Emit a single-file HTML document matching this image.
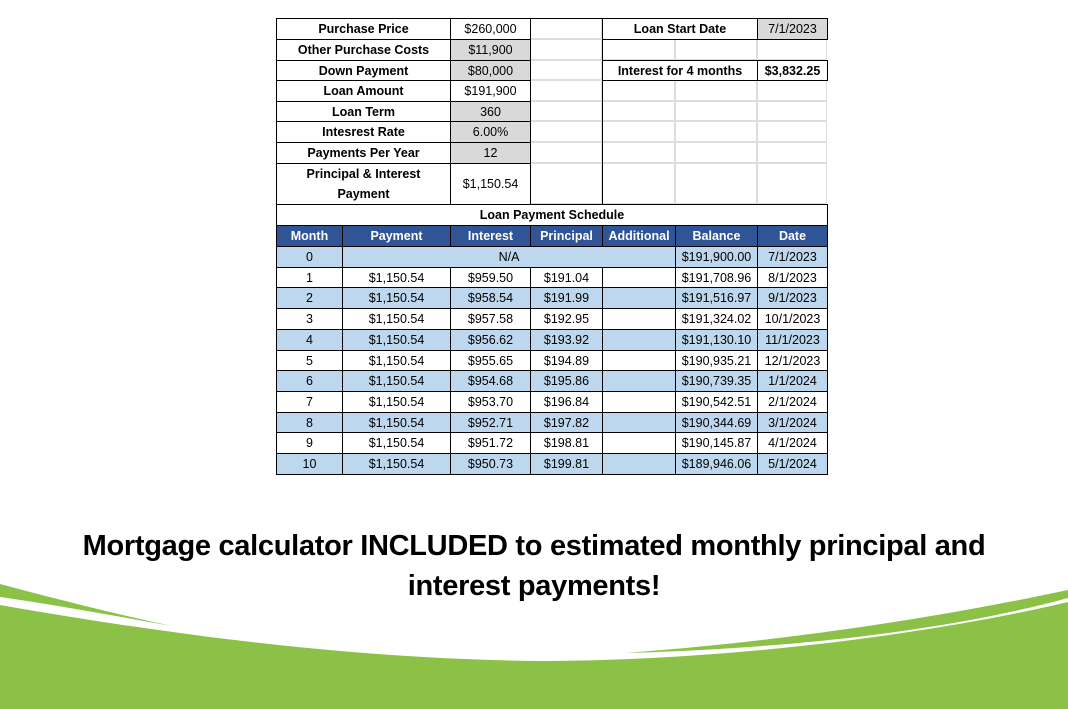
<!DOCTYPE html>
<html><head><style>
body{margin:0;width:1068px;height:709px;background:#fff;position:relative;overflow:hidden;font-family:"Liberation Sans",sans-serif}
.c{position:absolute;box-sizing:border-box;font-size:12.5px;display:flex;align-items:center;justify-content:center;white-space:nowrap;color:#000}
.b{font-weight:bold}
#cap{position:absolute;left:0;width:1068px;top:526px;text-align:center;font-weight:bold;font-size:29px;line-height:40px;letter-spacing:-0.3px}
</style></head><body>
<svg width="1068" height="709" style="position:absolute;left:0;top:0">
<path d="M0,605 C200,640 380,660 545,661 C750,660 950,630 1068,602 L1068,709 L0,709 Z" fill="#8bc146"/>
<path d="M0,584 C60,600 120,615 172,626 C110,615 50,604 0,597 Z" fill="#8bc146"/>
<path d="M625,653 C800,640 950,615 1068,590 L1068,598 C950,630 800,648 625,653 Z" fill="#8bc146"/>
</svg>
<div id="tbl"></div>
<div id="cap">Mortgage calculator INCLUDED to estimated monthly principal and<br>interest payments!</div>
<script>
var h='';
function cell(x1,y1,x2,y2,t,bg,cls,col){h+='<div class="c '+(cls||'')+'" style="left:'+x1+'px;top:'+y1+'px;width:'+(x2-x1+1)+'px;height:'+(y2-y1+1)+'px;background:'+(bg||'transparent')+';border:1px solid #000;color:'+(col||'#000')+'">'+t+'</div>';}
var xs=[276,342,450,530,602,675,757,827];
var tp=[["Purchase Price","$260,000",""],["Other Purchase Costs","$11,900","g"],["Down Payment","$80,000","g"],["Loan Amount","$191,900",""],["Loan Term","360","g"],["Intesrest Rate","6.00%","g"],["Payments Per Year","12","g"]];
var ys=[18,39,60,80,101,121,142,163];
for(var i=0;i<8;i++){for(var j=3;j<7;j++){h+='<div style="position:absolute;left:'+xs[j]+'px;top:'+ys[i]+'px;width:'+(xs[j+1]-xs[j])+'px;height:'+((i<7?ys[i+1]:204)-ys[i])+'px;box-sizing:border-box;border:1px solid #ddd"></div>';}}
for(var i=0;i<7;i++){cell(276,ys[i],450,ys[i+1],tp[i][0],'#fff','b');cell(450,ys[i],530,ys[i+1],tp[i][1],tp[i][2]?'#d9d9d9':'#fff');}
cell(276,163,450,204,'<span style="text-align:center;line-height:20px">Principal &amp; Interest<br>Payment</span>','#fff','b');
cell(450,163,530,204,'$1,150.54','#fff');
cell(530,18,602,204,'','transparent');
cell(602,18,757,39,'Loan Start Date','#fff','b');cell(757,18,827,39,'7/1/2023','#d9d9d9');
cell(602,60,757,80,'Interest for 4 months','#fff','b');cell(757,60,827,80,'$3,832.25','#fff','b');
cell(276,204,827,225,'Loan Payment Schedule','#fff','b');
var hd=["Month","Payment","Interest","Principal","Additional","Balance","Date"];
for(var j=0;j<7;j++)cell(xs[j],225,xs[j+1],246,hd[j],'#2f5597','b','#fff');
var rows=[["1","$959.50","$191.04","$191,708.96","8/1/2023"],["2","$958.54","$191.99","$191,516.97","9/1/2023"],["3","$957.58","$192.95","$191,324.02","10/1/2023"],["4","$956.62","$193.92","$191,130.10","11/1/2023"],["5","$955.65","$194.89","$190,935.21","12/1/2023"],["6","$954.68","$195.86","$190,739.35","1/1/2024"],["7","$953.70","$196.84","$190,542.51","2/1/2024"],["8","$952.71","$197.82","$190,344.69","3/1/2024"],["9","$951.72","$198.81","$190,145.87","4/1/2024"],["10","$950.73","$199.81","$189,946.06","5/1/2024"]];
var rh=20.7,y0=246;
cell(276,y0,342,y0+rh,'0','#bdd7ee');cell(342,y0,675,y0+rh,'N/A','#bdd7ee');cell(675,y0,757,y0+rh,'$191,900.00','#bdd7ee');cell(757,y0,827,y0+rh,'7/1/2023','#bdd7ee');
for(var i=0;i<10;i++){var y=Math.round(y0+(i+1)*rh),y2=Math.round(y0+(i+2)*rh),bg=(i%2)?'#bdd7ee':'#fff',r=rows[i];
var v=[r[0],'$1,150.54',r[1],r[2],'',r[3],r[4]];
for(var j=0;j<7;j++)cell(xs[j],y,xs[j+1],y2,v[j],bg);}
document.getElementById('tbl').innerHTML=h;
</script>
</body></html>
